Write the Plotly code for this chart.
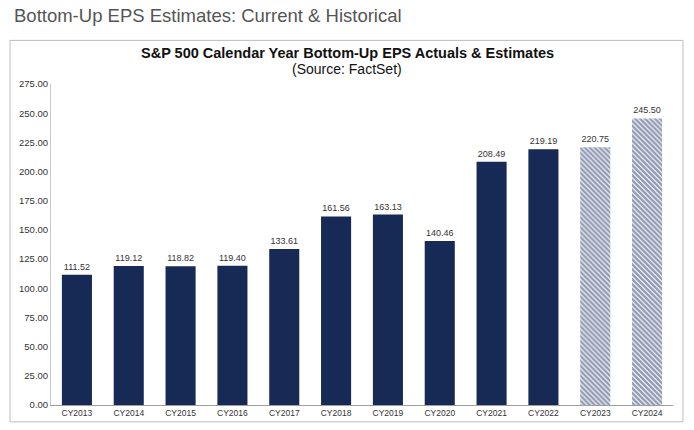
import plotly.graph_objects as go

years = ['CY2013', 'CY2014', 'CY2015', 'CY2016', 'CY2017', 'CY2018',
         'CY2019', 'CY2020', 'CY2021', 'CY2022', 'CY2023', 'CY2024']
eps = [111.52, 119.12, 118.82, 119.40, 133.61, 161.56,
       163.13, 140.46, 208.49, 219.19, 220.75, 245.50]
# estimates are drawn hatched
estimate = [False] * 10 + [True] * 2
y_ticks = [0, 25, 50, 75, 100, 125, 150, 175, 200, 225, 250, 275]

navy = '#172a55'

fig = go.Figure()
fig.add_trace(go.Bar(
    x=years,
    y=eps,
    marker=dict(
        color=navy,
        line=dict(width=0),
        pattern=dict(
            shape=['\\' if e else '' for e in estimate],
            fgcolor='#26366a',
            bgcolor='white',
            size=3.5,
            solidity=0.7,
        ),
    ),
    text=['%.2f' % v for v in eps],
    textposition='outside',
    textfont=dict(family='Liberation Sans, Arial', size=9, color='#333333'),
    cliponaxis=False,
    width=0.58,
))

# margins chosen so the plot area sits where the reference has it
L, R, T, B = 51, 21, 84, 22
W, H = 694, 430
pw, ph = W - L - R, H - T - B


def px(x):
    return (x - L) / pw


def py_(y):
    return (H - B - y) / ph


fig.update_layout(
    width=W, height=H,
    margin=dict(l=L, r=R, t=T, b=B),
    paper_bgcolor='white',
    plot_bgcolor='white',
    showlegend=False,
    font=dict(family='Liberation Sans, Arial', color='#333333'),
    shapes=[dict(type='rect', xref='paper', yref='paper',
                 x0=px(10), x1=px(683), y0=py_(425), y1=py_(40),
                 line=dict(color='#bdbdbd', width=1), layer='below')],
    annotations=[
        dict(text='Bottom-Up EPS Estimates: Current & Historical',
             xref='paper', yref='paper', x=px(12), y=py_(15),
             xanchor='left', yanchor='middle', showarrow=False,
             font=dict(family='Liberation Sans, Arial', size=18.5, color='#555555')),
        dict(text='<b>S&P 500 Calendar Year Bottom-Up EPS Actuals & Estimates</b>',
             xref='paper', yref='paper', x=px(347), y=py_(53),
             xanchor='center', yanchor='middle', showarrow=False,
             font=dict(family='Liberation Sans, Arial', size=14.5, color='#111111')),
        dict(text='(Source: FactSet)',
             xref='paper', yref='paper', x=px(347), y=py_(69),
             xanchor='center', yanchor='middle', showarrow=False,
             font=dict(family='Liberation Sans, Arial', size=14, color='#111111')),
    ],
)

fig.update_xaxes(
    showgrid=False, zeroline=False,
    showline=True, linecolor='#9e9e9e', linewidth=1,
    ticks='', tickfont=dict(size=8.5, color='#333333'),
)
fig.update_yaxes(
    range=[0, 275], tickvals=y_ticks,
    ticktext=['%.2f' % v for v in y_ticks],
    showgrid=False, zeroline=False,
    showline=True, linecolor='#c8c8c8', linewidth=1,
    ticks='', ticklen=0, tickfont=dict(size=9.5, color='#333333'),
)

# drop the page's default 8px body margin so the figure sits at 0,0
fig.write_html('out.html', config={'displayModeBar': False},
               post_script="document.body.style.margin='0';")
